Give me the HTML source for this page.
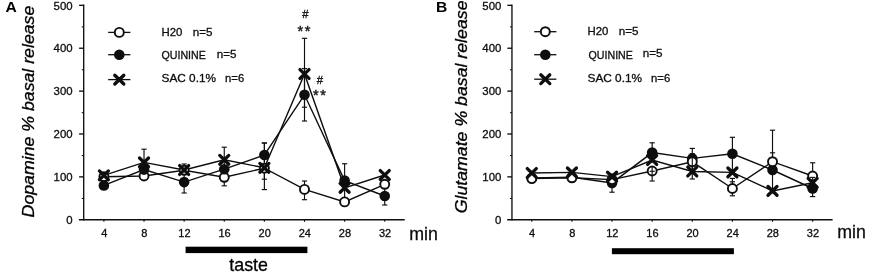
<!DOCTYPE html>
<html><head><meta charset="utf-8"><title>Figure</title>
<style>
html,body{margin:0;padding:0;background:#fff;}
body{width:886px;height:272px;overflow:hidden;}
svg{display:block;font-family:"Liberation Sans",sans-serif;}
</style></head><body>
<svg width="886" height="272" viewBox="0 0 886 272">
<rect width="886" height="272" fill="#fff"/>
<g stroke="#0e0e0e" stroke-width="1.35" fill="none">
<line x1="83.7" y1="4.6" x2="83.7" y2="220.45"/>
<line x1="78.9" y1="219.75" x2="404.70000000000005" y2="219.75"/>
<line x1="79.10000000000001" y1="176.87" x2="83.7" y2="176.87"/>
<line x1="79.10000000000001" y1="133.99" x2="83.7" y2="133.99"/>
<line x1="79.10000000000001" y1="91.11" x2="83.7" y2="91.11"/>
<line x1="79.10000000000001" y1="48.23" x2="83.7" y2="48.23"/>
<line x1="79.10000000000001" y1="5.35" x2="83.7" y2="5.35"/>
<line x1="81.7" y1="198.45" x2="83.7" y2="198.45" stroke-width="1"/>
<line x1="81.7" y1="155.57" x2="83.7" y2="155.57" stroke-width="1"/>
<line x1="81.7" y1="112.69" x2="83.7" y2="112.69" stroke-width="1"/>
<line x1="81.7" y1="69.81" x2="83.7" y2="69.81" stroke-width="1"/>
<line x1="81.7" y1="26.93" x2="83.7" y2="26.93" stroke-width="1"/>
<line x1="103.9" y1="219.75" x2="103.9" y2="221.85" stroke-width="1.1"/>
<line x1="144.02" y1="219.75" x2="144.02" y2="221.85" stroke-width="1.1"/>
<line x1="184.14" y1="219.75" x2="184.14" y2="221.85" stroke-width="1.1"/>
<line x1="224.26" y1="219.75" x2="224.26" y2="221.85" stroke-width="1.1"/>
<line x1="264.38" y1="219.75" x2="264.38" y2="221.85" stroke-width="1.1"/>
<line x1="304.5" y1="219.75" x2="304.5" y2="221.85" stroke-width="1.1"/>
<line x1="344.62" y1="219.75" x2="344.62" y2="221.85" stroke-width="1.1"/>
<line x1="384.74" y1="219.75" x2="384.74" y2="221.85" stroke-width="1.1"/>
</g>
<g font-size="11.4" text-anchor="end" fill="#0e0e0e" stroke="#0e0e0e" stroke-width="0.3">
<text x="72.60000000000001" y="223.85">0</text>
<text x="72.60000000000001" y="180.97">100</text>
<text x="72.60000000000001" y="138.09">200</text>
<text x="72.60000000000001" y="95.21">300</text>
<text x="72.60000000000001" y="52.33">400</text>
<text x="72.60000000000001" y="10.15">500</text>
</g>
<g font-size="11" text-anchor="middle" fill="#0e0e0e" stroke="#0e0e0e" stroke-width="0.3">
<text x="104.2" y="237.4">4</text>
<text x="144.32000000000002" y="237.4">8</text>
<text x="184.44" y="237.4">12</text>
<text x="224.56" y="237.4">16</text>
<text x="264.68" y="237.4">20</text>
<text x="304.8" y="237.4">24</text>
<text x="344.92" y="237.4">28</text>
<text x="385.04" y="237.4">32</text>
</g>
<text x="409.29999999999995" y="239.5" font-size="17.8" fill="#0e0e0e" stroke="#0e0e0e" stroke-width="0.3">min</text>
<text x="5.6" y="11.9" font-size="14.5" font-weight="bold" fill="#000" textLength="11.3" lengthAdjust="spacingAndGlyphs">A</text>
<text transform="translate(34.4 217.4) rotate(-90)" font-size="16.2" font-style="italic" stroke="#000" stroke-width="0.3" textLength="211.7" lengthAdjust="spacingAndGlyphs" fill="#000">Dopamine % basal release</text>
<rect x="185.6" y="246.7" width="121.8" height="6.4" fill="#000"/>
<g stroke="#0e0e0e" stroke-width="1.3">
<line x1="108.2" y1="32.4" x2="130.4" y2="32.4"/>
<line x1="108.2" y1="54.7" x2="130.4" y2="54.7"/>
<line x1="108.2" y1="79.6" x2="130.4" y2="79.6"/>
</g>
<circle cx="119.30" cy="32.40" r="4.5" fill="#fff" stroke="#0e0e0e" stroke-width="1.9"/>
<circle cx="119.30" cy="54.70" r="5.3" fill="#0e0e0e"/>
<path d="M114.80 75.20L123.80 84.00M114.80 84.00L123.80 75.20" stroke="#0e0e0e" stroke-width="3.3" stroke-linecap="round" fill="none"/>
<g font-size="10.8" fill="#0e0e0e" stroke="#0e0e0e" stroke-width="0.3">
<text x="161.50" y="35.9" textLength="20.90" lengthAdjust="spacingAndGlyphs">H20</text>
<text x="192.80" y="35.9" textLength="19.80" lengthAdjust="spacingAndGlyphs">n=5</text>
<text x="161.50" y="58.6" textLength="44.30" lengthAdjust="spacingAndGlyphs">QUININE</text>
<text x="216.80" y="57.6" textLength="19.80" lengthAdjust="spacingAndGlyphs">n=5</text>
<text x="161.50" y="82.4" textLength="54.50" lengthAdjust="spacingAndGlyphs">SAC 0.1%</text>
<text x="225.00" y="81.8" textLength="19.20" lengthAdjust="spacingAndGlyphs">n=6</text>
</g>
<polyline points="103.90,176.70 144.02,176.00 184.14,170.30 224.26,177.30 264.38,168.20 304.50,189.40 344.62,201.90 384.74,184.30" fill="none" stroke="#0e0e0e" stroke-width="1.4"/>
<polyline points="103.90,185.40 144.02,169.60 184.14,182.10 224.26,169.20 264.38,155.00 304.50,94.80 344.62,180.60 384.74,196.00" fill="none" stroke="#0e0e0e" stroke-width="1.4"/>
<polyline points="103.90,175.30 144.02,162.40 184.14,170.00 224.26,159.80 264.38,167.80 304.50,74.00 344.62,187.80 384.74,175.00" fill="none" stroke="#0e0e0e" stroke-width="1.4"/>
<g stroke="#0e0e0e" stroke-width="1.15">
<line x1="144.02" y1="149.20" x2="144.02" y2="173.00"/><line x1="141.42" y1="149.20" x2="146.62" y2="149.20"/><line x1="141.42" y1="173.00" x2="146.62" y2="173.00"/>
<line x1="184.14" y1="164.00" x2="184.14" y2="174.00"/><line x1="181.54" y1="164.00" x2="186.74" y2="164.00"/><line x1="181.54" y1="174.00" x2="186.74" y2="174.00"/>
<line x1="184.14" y1="172.00" x2="184.14" y2="193.00"/><line x1="181.54" y1="172.00" x2="186.74" y2="172.00"/><line x1="181.54" y1="193.00" x2="186.74" y2="193.00"/>
<line x1="224.26" y1="147.20" x2="224.26" y2="171.00"/><line x1="221.66" y1="147.20" x2="226.86" y2="147.20"/><line x1="221.66" y1="171.00" x2="226.86" y2="171.00"/>
<line x1="224.26" y1="169.60" x2="224.26" y2="185.80"/><line x1="221.66" y1="169.60" x2="226.86" y2="169.60"/><line x1="221.66" y1="185.80" x2="226.86" y2="185.80"/>
<line x1="264.38" y1="143.00" x2="264.38" y2="189.60"/><line x1="261.78" y1="143.00" x2="266.98" y2="143.00"/><line x1="261.78" y1="189.60" x2="266.98" y2="189.60"/>
<line x1="264.38" y1="143.00" x2="264.38" y2="179.20"/><line x1="261.78" y1="143.00" x2="266.98" y2="143.00"/><line x1="261.78" y1="179.20" x2="266.98" y2="179.20"/>
<line x1="304.50" y1="38.30" x2="304.50" y2="107.20"/><line x1="301.90" y1="38.30" x2="307.10" y2="38.30"/><line x1="301.90" y1="107.20" x2="307.10" y2="107.20"/>
<line x1="304.50" y1="68.60" x2="304.50" y2="121.00"/><line x1="301.90" y1="68.60" x2="307.10" y2="68.60"/><line x1="301.90" y1="121.00" x2="307.10" y2="121.00"/>
<line x1="304.50" y1="181.00" x2="304.50" y2="199.70"/><line x1="301.90" y1="181.00" x2="307.10" y2="181.00"/><line x1="301.90" y1="199.70" x2="307.10" y2="199.70"/>
<line x1="344.62" y1="163.75" x2="344.62" y2="197.50"/><line x1="342.02" y1="163.75" x2="347.22" y2="163.75"/><line x1="342.02" y1="197.50" x2="347.22" y2="197.50"/>
<line x1="384.74" y1="186.00" x2="384.74" y2="205.00"/><line x1="382.14" y1="186.00" x2="387.34" y2="186.00"/><line x1="382.14" y1="205.00" x2="387.34" y2="205.00"/>
</g>
<circle cx="103.90" cy="176.70" r="4.5" fill="#fff" stroke="#0e0e0e" stroke-width="1.9"/>
<circle cx="144.02" cy="176.00" r="4.5" fill="#fff" stroke="#0e0e0e" stroke-width="1.9"/>
<circle cx="184.14" cy="170.30" r="4.5" fill="#fff" stroke="#0e0e0e" stroke-width="1.9"/>
<circle cx="224.26" cy="177.30" r="4.5" fill="#fff" stroke="#0e0e0e" stroke-width="1.9"/>
<circle cx="264.38" cy="168.20" r="4.5" fill="#fff" stroke="#0e0e0e" stroke-width="1.9"/>
<circle cx="304.50" cy="189.40" r="4.5" fill="#fff" stroke="#0e0e0e" stroke-width="1.9"/>
<circle cx="344.62" cy="201.90" r="4.5" fill="#fff" stroke="#0e0e0e" stroke-width="1.9"/>
<circle cx="384.74" cy="184.30" r="4.5" fill="#fff" stroke="#0e0e0e" stroke-width="1.9"/>
<circle cx="103.90" cy="185.40" r="5.3" fill="#0e0e0e"/>
<circle cx="144.02" cy="169.60" r="5.3" fill="#0e0e0e"/>
<circle cx="184.14" cy="182.10" r="5.3" fill="#0e0e0e"/>
<circle cx="224.26" cy="169.20" r="5.3" fill="#0e0e0e"/>
<circle cx="264.38" cy="155.00" r="5.3" fill="#0e0e0e"/>
<circle cx="304.50" cy="94.80" r="5.3" fill="#0e0e0e"/>
<circle cx="344.62" cy="180.60" r="5.3" fill="#0e0e0e"/>
<circle cx="384.74" cy="196.00" r="5.3" fill="#0e0e0e"/>
<path d="M99.40 170.90L108.40 179.70M99.40 179.70L108.40 170.90" stroke="#0e0e0e" stroke-width="3.3" stroke-linecap="round" fill="none"/>
<path d="M139.52 158.00L148.52 166.80M139.52 166.80L148.52 158.00" stroke="#0e0e0e" stroke-width="3.3" stroke-linecap="round" fill="none"/>
<path d="M179.64 165.60L188.64 174.40M179.64 174.40L188.64 165.60" stroke="#0e0e0e" stroke-width="3.3" stroke-linecap="round" fill="none"/>
<path d="M219.76 155.40L228.76 164.20M219.76 164.20L228.76 155.40" stroke="#0e0e0e" stroke-width="3.3" stroke-linecap="round" fill="none"/>
<path d="M259.88 163.40L268.88 172.20M259.88 172.20L268.88 163.40" stroke="#0e0e0e" stroke-width="3.3" stroke-linecap="round" fill="none"/>
<path d="M300.00 69.60L309.00 78.40M300.00 78.40L309.00 69.60" stroke="#0e0e0e" stroke-width="3.3" stroke-linecap="round" fill="none"/>
<path d="M340.12 183.40L349.12 192.20M340.12 192.20L349.12 183.40" stroke="#0e0e0e" stroke-width="3.3" stroke-linecap="round" fill="none"/>
<path d="M380.24 170.60L389.24 179.40M380.24 179.40L389.24 170.60" stroke="#0e0e0e" stroke-width="3.3" stroke-linecap="round" fill="none"/>
<g font-size="10.8" text-anchor="middle" fill="#141414" stroke="#141414" stroke-width="0.35"><text x="305.3" y="17.7" font-size="11.3">#</text><text x="304.7" y="35.7" font-size="14.5" stroke-width="0.45" letter-spacing="1.5">**</text><text x="319.9" y="83.8" font-size="11.3">#</text><text x="320.2" y="100.3" font-size="14.5" stroke-width="0.45" letter-spacing="1.5">**</text></g><text x="229.3" y="270.7" font-size="17.8" fill="#000" stroke="#000" stroke-width="0.3">taste</text>
<g stroke="#0e0e0e" stroke-width="1.35" fill="none">
<line x1="511.95" y1="4.6" x2="511.95" y2="220.45"/>
<line x1="507.15" y1="219.75" x2="832.5999999999999" y2="219.75"/>
<line x1="507.34999999999997" y1="176.87" x2="511.95" y2="176.87"/>
<line x1="507.34999999999997" y1="133.99" x2="511.95" y2="133.99"/>
<line x1="507.34999999999997" y1="91.11" x2="511.95" y2="91.11"/>
<line x1="507.34999999999997" y1="48.23" x2="511.95" y2="48.23"/>
<line x1="507.34999999999997" y1="5.35" x2="511.95" y2="5.35"/>
<line x1="509.95" y1="198.45" x2="511.95" y2="198.45" stroke-width="1"/>
<line x1="509.95" y1="155.57" x2="511.95" y2="155.57" stroke-width="1"/>
<line x1="509.95" y1="112.69" x2="511.95" y2="112.69" stroke-width="1"/>
<line x1="509.95" y1="69.81" x2="511.95" y2="69.81" stroke-width="1"/>
<line x1="509.95" y1="26.93" x2="511.95" y2="26.93" stroke-width="1"/>
<line x1="531.8" y1="219.75" x2="531.8" y2="221.85" stroke-width="1.1"/>
<line x1="571.92" y1="219.75" x2="571.92" y2="221.85" stroke-width="1.1"/>
<line x1="612.04" y1="219.75" x2="612.04" y2="221.85" stroke-width="1.1"/>
<line x1="652.16" y1="219.75" x2="652.16" y2="221.85" stroke-width="1.1"/>
<line x1="692.28" y1="219.75" x2="692.28" y2="221.85" stroke-width="1.1"/>
<line x1="732.4" y1="219.75" x2="732.4" y2="221.85" stroke-width="1.1"/>
<line x1="772.52" y1="219.75" x2="772.52" y2="221.85" stroke-width="1.1"/>
<line x1="812.6399999999999" y1="219.75" x2="812.6399999999999" y2="221.85" stroke-width="1.1"/>
</g>
<g font-size="11.4" text-anchor="end" fill="#0e0e0e" stroke="#0e0e0e" stroke-width="0.3">
<text x="501.34999999999997" y="223.85">0</text>
<text x="501.34999999999997" y="180.97">100</text>
<text x="501.34999999999997" y="138.09">200</text>
<text x="501.34999999999997" y="95.21">300</text>
<text x="501.34999999999997" y="52.33">400</text>
<text x="501.34999999999997" y="10.15">500</text>
</g>
<g font-size="11" text-anchor="middle" fill="#0e0e0e" stroke="#0e0e0e" stroke-width="0.3">
<text x="532.0999999999999" y="237.4">4</text>
<text x="572.2199999999999" y="237.4">8</text>
<text x="612.3399999999999" y="237.4">12</text>
<text x="652.4599999999999" y="237.4">16</text>
<text x="692.5799999999999" y="237.4">20</text>
<text x="732.6999999999999" y="237.4">24</text>
<text x="772.8199999999999" y="237.4">28</text>
<text x="812.9399999999998" y="237.4">32</text>
</g>
<text x="837.1999999999999" y="238.1" font-size="17.8" fill="#0e0e0e" stroke="#0e0e0e" stroke-width="0.3">min</text>
<text x="436.0" y="11.9" font-size="14.5" font-weight="bold" fill="#000" textLength="11.3" lengthAdjust="spacingAndGlyphs">B</text>
<text transform="translate(467.4 213.3) rotate(-90)" font-size="16.2" font-style="italic" stroke="#000" stroke-width="0.3" textLength="212.8" lengthAdjust="spacingAndGlyphs" fill="#000">Glutamate % basal release</text>
<rect x="611.9" y="248.2" width="122" height="6" fill="#000"/>
<g stroke="#0e0e0e" stroke-width="1.3">
<line x1="534.1999999999999" y1="31.7" x2="556.4" y2="31.7"/>
<line x1="534.1999999999999" y1="54.7" x2="556.4" y2="54.7"/>
<line x1="534.1999999999999" y1="79.2" x2="556.4" y2="79.2"/>
</g>
<circle cx="545.30" cy="31.70" r="4.5" fill="#fff" stroke="#0e0e0e" stroke-width="1.9"/>
<circle cx="545.30" cy="54.70" r="5.3" fill="#0e0e0e"/>
<path d="M540.80 74.80L549.80 83.60M540.80 83.60L549.80 74.80" stroke="#0e0e0e" stroke-width="3.3" stroke-linecap="round" fill="none"/>
<g font-size="10.8" fill="#0e0e0e" stroke="#0e0e0e" stroke-width="0.3">
<text x="587.50" y="35.0" textLength="20.90" lengthAdjust="spacingAndGlyphs">H20</text>
<text x="618.80" y="35.4" textLength="19.80" lengthAdjust="spacingAndGlyphs">n=5</text>
<text x="588.60" y="58.6" textLength="44.30" lengthAdjust="spacingAndGlyphs">QUININE</text>
<text x="642.80" y="57.4" textLength="19.80" lengthAdjust="spacingAndGlyphs">n=5</text>
<text x="587.50" y="82.2" textLength="54.50" lengthAdjust="spacingAndGlyphs">SAC 0.1%</text>
<text x="651.00" y="81.6" textLength="19.20" lengthAdjust="spacingAndGlyphs">n=6</text>
</g>
<polyline points="531.80,178.60 571.92,177.80 612.04,179.60 652.16,171.00 692.28,161.80 732.40,188.50 772.52,161.70 812.64,176.00" fill="none" stroke="#0e0e0e" stroke-width="1.4"/>
<polyline points="531.80,178.00 571.92,177.20 612.04,182.90 652.16,152.60 692.28,158.40 732.40,153.75 772.52,170.00 812.64,188.50" fill="none" stroke="#0e0e0e" stroke-width="1.4"/>
<polyline points="531.80,173.00 571.92,172.40 612.04,176.60 652.16,160.00 692.28,171.50 732.40,172.40 772.52,190.90 812.64,182.80" fill="none" stroke="#0e0e0e" stroke-width="1.4"/>
<g stroke="#0e0e0e" stroke-width="1.15">
<line x1="612.04" y1="174.00" x2="612.04" y2="192.20"/><line x1="609.44" y1="174.00" x2="614.64" y2="174.00"/><line x1="609.44" y1="192.20" x2="614.64" y2="192.20"/>
<line x1="652.16" y1="142.80" x2="652.16" y2="162.00"/><line x1="649.56" y1="142.80" x2="654.76" y2="142.80"/><line x1="649.56" y1="162.00" x2="654.76" y2="162.00"/>
<line x1="692.28" y1="148.40" x2="692.28" y2="179.00"/><line x1="689.68" y1="148.40" x2="694.88" y2="148.40"/><line x1="689.68" y1="179.00" x2="694.88" y2="179.00"/>
<line x1="692.28" y1="153.75" x2="692.28" y2="170.00"/><line x1="689.68" y1="153.75" x2="694.88" y2="153.75"/>
<line x1="732.40" y1="137.30" x2="732.40" y2="170.00"/><line x1="729.80" y1="137.30" x2="735.00" y2="137.30"/><line x1="729.80" y1="170.00" x2="735.00" y2="170.00"/>
<line x1="732.40" y1="178.40" x2="732.40" y2="195.80"/><line x1="729.80" y1="178.40" x2="735.00" y2="178.40"/><line x1="729.80" y1="195.80" x2="735.00" y2="195.80"/>
<line x1="732.40" y1="181.80" x2="732.40" y2="190.00"/><line x1="729.80" y1="181.80" x2="735.00" y2="181.80"/>
<line x1="772.52" y1="152.80" x2="772.52" y2="170.00"/><line x1="769.92" y1="152.80" x2="775.12" y2="152.80"/>
<line x1="772.52" y1="130.20" x2="772.52" y2="192.80"/><line x1="769.92" y1="130.20" x2="775.12" y2="130.20"/><line x1="769.92" y1="192.80" x2="775.12" y2="192.80"/>
<line x1="812.64" y1="162.80" x2="812.64" y2="189.00"/><line x1="810.04" y1="162.80" x2="815.24" y2="162.80"/><line x1="810.04" y1="189.00" x2="815.24" y2="189.00"/>
<line x1="812.64" y1="178.30" x2="812.64" y2="196.60"/><line x1="810.04" y1="196.60" x2="815.24" y2="196.60"/>
</g>
<circle cx="531.80" cy="178.00" r="5.3" fill="#0e0e0e"/>
<circle cx="571.92" cy="177.20" r="5.3" fill="#0e0e0e"/>
<circle cx="612.04" cy="182.90" r="5.3" fill="#0e0e0e"/>
<circle cx="652.16" cy="152.60" r="5.3" fill="#0e0e0e"/>
<circle cx="692.28" cy="158.40" r="5.3" fill="#0e0e0e"/>
<circle cx="732.40" cy="153.75" r="5.3" fill="#0e0e0e"/>
<circle cx="772.52" cy="170.00" r="5.3" fill="#0e0e0e"/>
<circle cx="812.64" cy="188.50" r="5.3" fill="#0e0e0e"/>
<circle cx="531.80" cy="178.60" r="4.5" fill="#fff" stroke="#0e0e0e" stroke-width="1.9"/>
<circle cx="571.92" cy="177.80" r="4.5" fill="#fff" stroke="#0e0e0e" stroke-width="1.9"/>
<circle cx="612.04" cy="179.60" r="4.5" fill="#fff" stroke="#0e0e0e" stroke-width="1.9"/>
<circle cx="652.16" cy="171.00" r="4.5" fill="#fff" stroke="#0e0e0e" stroke-width="1.9"/>
<circle cx="692.28" cy="161.80" r="4.5" fill="#fff" stroke="#0e0e0e" stroke-width="1.9"/>
<circle cx="732.40" cy="188.50" r="4.5" fill="#fff" stroke="#0e0e0e" stroke-width="1.9"/>
<circle cx="772.52" cy="161.70" r="4.5" fill="#fff" stroke="#0e0e0e" stroke-width="1.9"/>
<circle cx="812.64" cy="176.00" r="4.5" fill="#fff" stroke="#0e0e0e" stroke-width="1.9"/>
<path d="M527.30 168.60L536.30 177.40M527.30 177.40L536.30 168.60" stroke="#0e0e0e" stroke-width="3.3" stroke-linecap="round" fill="none"/>
<path d="M567.42 168.00L576.42 176.80M567.42 176.80L576.42 168.00" stroke="#0e0e0e" stroke-width="3.3" stroke-linecap="round" fill="none"/>
<path d="M607.54 172.20L616.54 181.00M607.54 181.00L616.54 172.20" stroke="#0e0e0e" stroke-width="3.3" stroke-linecap="round" fill="none"/>
<path d="M647.66 155.60L656.66 164.40M647.66 164.40L656.66 155.60" stroke="#0e0e0e" stroke-width="3.3" stroke-linecap="round" fill="none"/>
<path d="M687.78 167.10L696.78 175.90M687.78 175.90L696.78 167.10" stroke="#0e0e0e" stroke-width="3.3" stroke-linecap="round" fill="none"/>
<path d="M727.90 168.00L736.90 176.80M727.90 176.80L736.90 168.00" stroke="#0e0e0e" stroke-width="3.3" stroke-linecap="round" fill="none"/>
<path d="M768.02 186.50L777.02 195.30M768.02 195.30L777.02 186.50" stroke="#0e0e0e" stroke-width="3.3" stroke-linecap="round" fill="none"/>
<path d="M808.14 178.40L817.14 187.20M808.14 187.20L817.14 178.40" stroke="#0e0e0e" stroke-width="3.3" stroke-linecap="round" fill="none"/>
<g stroke="#141414" stroke-width="1.15"><line x1="652.16" y1="166" x2="652.16" y2="181.0"/><line x1="649.56" y1="181.0" x2="654.76" y2="181.0"/><line x1="649.56" y1="171.3" x2="654.76" y2="171.3"/><line x1="692.28" y1="157" x2="692.28" y2="167"/><line x1="810.04" y1="177.4" x2="815.24" y2="177.4"/><line x1="812.64" y1="177.4" x2="812.64" y2="180"/></g>
</svg>
</body></html>
